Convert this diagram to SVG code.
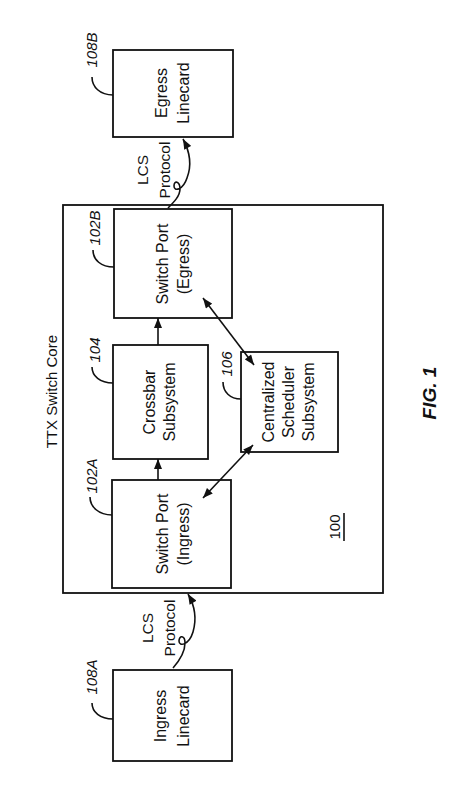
<svg xmlns="http://www.w3.org/2000/svg" width="474" height="804" viewBox="0 0 474 804">
<defs>
<style>
.box{fill:none;stroke:#111;stroke-width:1.8}
.ln{fill:none;stroke:#111;stroke-width:1.6}
.t{font-family:"Liberation Sans",Arial,sans-serif;font-size:16px;fill:#111;text-anchor:middle}
.r{font-family:"Liberation Sans",Arial,sans-serif;font-size:15px;font-style:italic;fill:#111;text-anchor:middle}
.fig{font-family:"Liberation Sans",Arial,sans-serif;font-size:19px;font-style:italic;font-weight:bold;fill:#111;text-anchor:middle}
</style>
<marker id="ah" viewBox="0 0 10 8" refX="10" refY="4" markerWidth="11" markerHeight="8" markerUnits="userSpaceOnUse" orient="auto-start-reverse">
<path d="M0,0 L10,4 L0,8 z" fill="#111"/>
</marker>
</defs>
<rect width="474" height="804" fill="#fff"/>

<g id="core">
<rect class="box" x="63" y="205" width="320" height="388"/>
<text class="t" style="font-size:15px;text-anchor:end" transform="translate(57,335) rotate(-90)">TTX Switch Core</text>
<text class="r" style="font-style:normal" transform="translate(340,527) rotate(-90)">100</text>
<line class="ln" x1="344" y1="513" x2="344" y2="541"/>
</g>

<g id="egress-linecard">
<rect class="box" x="113" y="50" width="120" height="87"/>
<text class="t" transform="translate(173,93) rotate(-90)"><tspan x="0" y="-6">Egress</tspan><tspan x="0" y="16">Linecard</tspan></text>
</g>

<g id="switch-port-egress">
<rect class="box" x="114" y="209" width="118" height="109"/>
<text class="t" transform="translate(173,264) rotate(-90)"><tspan x="0" y="-5">Switch Port</tspan><tspan x="0" y="16">(Egress)</tspan></text>
</g>

<g id="crossbar">
<rect class="box" x="113" y="345" width="95" height="114"/>
<text class="t" transform="translate(160,402) rotate(-90)"><tspan x="0" y="-5">Crossbar</tspan><tspan x="0" y="15">Subsystem</tspan></text>
</g>

<g id="switch-port-ingress">
<rect class="box" x="112" y="480" width="119" height="108"/>
<text class="t" transform="translate(172,534) rotate(-90)"><tspan x="0" y="-4">Switch Port</tspan><tspan x="0" y="17">(Ingress)</tspan></text>
</g>

<g id="scheduler">
<rect class="box" x="241" y="352" width="97" height="100"/>
<text class="t" transform="translate(290,402) rotate(-90)"><tspan x="0" y="-16">Centralized</tspan><tspan x="0" y="4">Scheduler</tspan><tspan x="0" y="24">Subsystem</tspan></text>
</g>

<g id="ingress-linecard">
<rect class="box" x="113" y="670" width="119" height="91"/>
<text class="t" transform="translate(173,716) rotate(-90)"><tspan x="0" y="-7">Ingress</tspan><tspan x="0" y="16">Linecard</tspan></text>
</g>

<g id="refs">
<text class="r" transform="translate(97,50) rotate(-90)">108B</text>
<path class="ln" d="M113,95 C100,95 92,87 92,77"/>
<text class="r" transform="translate(100,228) rotate(-90)">102B</text>
<path class="ln" d="M114,267 C101,267 93,260 93,250"/>
<text class="r" transform="translate(100,350) rotate(-90)">104</text>
<path class="ln" d="M113,383 C100,383 92,376 92,367"/>
<text class="r" transform="translate(97,476) rotate(-90)">102A</text>
<path class="ln" d="M112,515 C99,515 90,507 90,497"/>
<text class="r" transform="translate(232,364) rotate(-90)">106</text>
<path class="ln" d="M241,399 C230,399 223,392 223,382"/>
<text class="r" transform="translate(97,677) rotate(-90)">108A</text>
<path class="ln" d="M113,719 C100,719 92,712 92,703"/>
</g>

<g id="lcs-labels">
<text class="t" style="font-size:15.5px" transform="translate(160,170) rotate(-90)"><tspan x="0" y="-12">LCS</tspan><tspan x="0" y="10">Protocol</tspan></text>
<text class="t" style="font-size:15.5px" transform="translate(160,628) rotate(-90)"><tspan x="0" y="-7">LCS</tspan><tspan x="0" y="15">Protocol</tspan></text>
</g>

<g id="connectors">
<line class="ln" x1="158" y1="345" x2="158" y2="318" marker-end="url(#ah)"/>
<line class="ln" x1="158" y1="480" x2="158" y2="459" marker-end="url(#ah)"/>
<line class="ln" x1="203" y1="298" x2="254" y2="365" marker-start="url(#ah)" marker-end="url(#ah)"/>
<line class="ln" x1="203" y1="498" x2="253" y2="445" marker-start="url(#ah)" marker-end="url(#ah)"/>
<path class="ln" d="M168,208 C174,202 180,196 180,189 C180,181 174,180 174,186 C174,192 183,190 187,178 C192,165 190,152 183,139" marker-end="url(#ah)"/>
<path class="ln" d="M173,668 C180,660 185,652 185,643 C185,635 179,635 179,641 C179,647 189,645 193,632 C197,618 195,606 188,594" marker-end="url(#ah)"/>
</g>

<g id="fig">
<text class="fig" transform="translate(436,393) rotate(-90)">FIG. 1</text>
</g>
</svg>
